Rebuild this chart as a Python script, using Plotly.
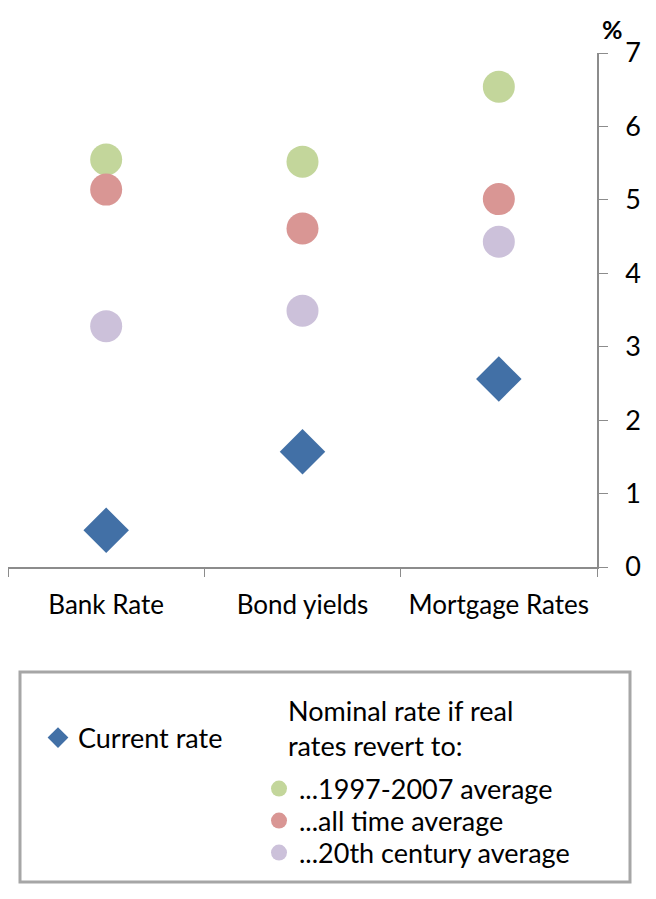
import plotly.graph_objects as go

categories = ["Bank Rate", "Bond yields", "Mortgage Rates"]
current_rate = [0.5, 1.57, 2.56]
avg_1997_2007 = [5.55, 5.52, 6.54]
avg_all_time = [5.14, 4.61, 5.01]
avg_20th_century = [3.28, 3.49, 4.43]

FONT = "Lato"
W, H = 656, 899
L, R, T, B = 8, 59, 53, 332


def px_x(p):
    return (p - L) / (W - L - R)


def px_y(p):
    return (H - B - p) / (H - T - B)


fig = go.Figure()

fig.add_trace(go.Scatter(
    x=categories, y=current_rate, mode="markers", name="Current rate",
    marker=dict(symbol="diamond", size=35, color="#4270a6"),
    legend="legend"
))
# each average gets its own legend box so the rows can sit where the reference has them
circle_series = [
    ("...1997-2007 average", avg_1997_2007, "#c3d69b", "legend2", 789),
    ("...all time average", avg_all_time, "#d99694", "legend3", 821),
    ("...20th century average", avg_20th_century, "#ccc1da", "legend4", 853),
]
legend_boxes = {}
for name, vals, col, leg, ypx in circle_series:
    fig.add_trace(go.Scatter(
        x=categories, y=vals, mode="markers", name=name,
        marker=dict(symbol="circle", size=32, color=col),
        legend=leg
    ))
    legend_boxes[leg] = dict(
        x=px_x(259), y=px_y(ypx), xanchor="left", yanchor="middle",
        bgcolor="rgba(0,0,0,0)", font=dict(size=27, family=FONT),
        itemwidth=30,
    )

# legend frame
fig.add_shape(type="rect", xref="paper", yref="paper",
              x0=px_x(20), x1=px_x(630), y0=px_y(882), y1=px_y(672),
              line=dict(color="#a6a6a6", width=3), fillcolor="rgba(0,0,0,0)")

fig.add_annotation(x=px_x(286), y=px_y(728), xref="paper", yref="paper",
                   xanchor="left", yanchor="middle", align="left",
                   text="Nominal rate if real<br>rates revert to:", showarrow=False,
                   font=dict(size=27, color="black", family=FONT))

fig.add_annotation(x=px_x(612), y=px_y(29), xref="paper", yref="paper",
                   xanchor="center", yanchor="middle",
                   text="<b>%</b>", showarrow=False,
                   font=dict(size=25, color="black", family=FONT))

fig.update_layout(
    width=W, height=H,
    margin=dict(l=L, r=R, t=T, b=B, autoexpand=False),
    paper_bgcolor="white", plot_bgcolor="white",
    font=dict(family=FONT, size=26, color="black"),
    xaxis=dict(
        range=[-0.5, 2.5], automargin=False,
        showline=True, linecolor="#8c8c8c", linewidth=1.5,
        ticks="outside", tickson="boundaries", ticklen=8, tickcolor="#8c8c8c",
        showgrid=False, tickfont=dict(size=26), zeroline=False,
        ticklabelstandoff=14,
    ),
    yaxis=dict(
        side="right", range=[0, 7], dtick=1, showgrid=False, zeroline=False,
        automargin=False,
        showline=True, linecolor="#8c8c8c", linewidth=1.5,
        ticks="outside", ticklen=9, tickcolor="#8c8c8c",
        tickfont=dict(size=27), ticklabelstandoff=12,
    ),
    legend=dict(
        x=px_x(38), y=px_y(738), xanchor="left", yanchor="middle",
        bgcolor="rgba(0,0,0,0)", font=dict(size=27, family=FONT),
        itemwidth=30,
    ),
    showlegend=True,
    **legend_boxes,
)

fig.write_html("out.html", config={"displayModeBar": False},
               post_script="document.body.style.margin='0';")
